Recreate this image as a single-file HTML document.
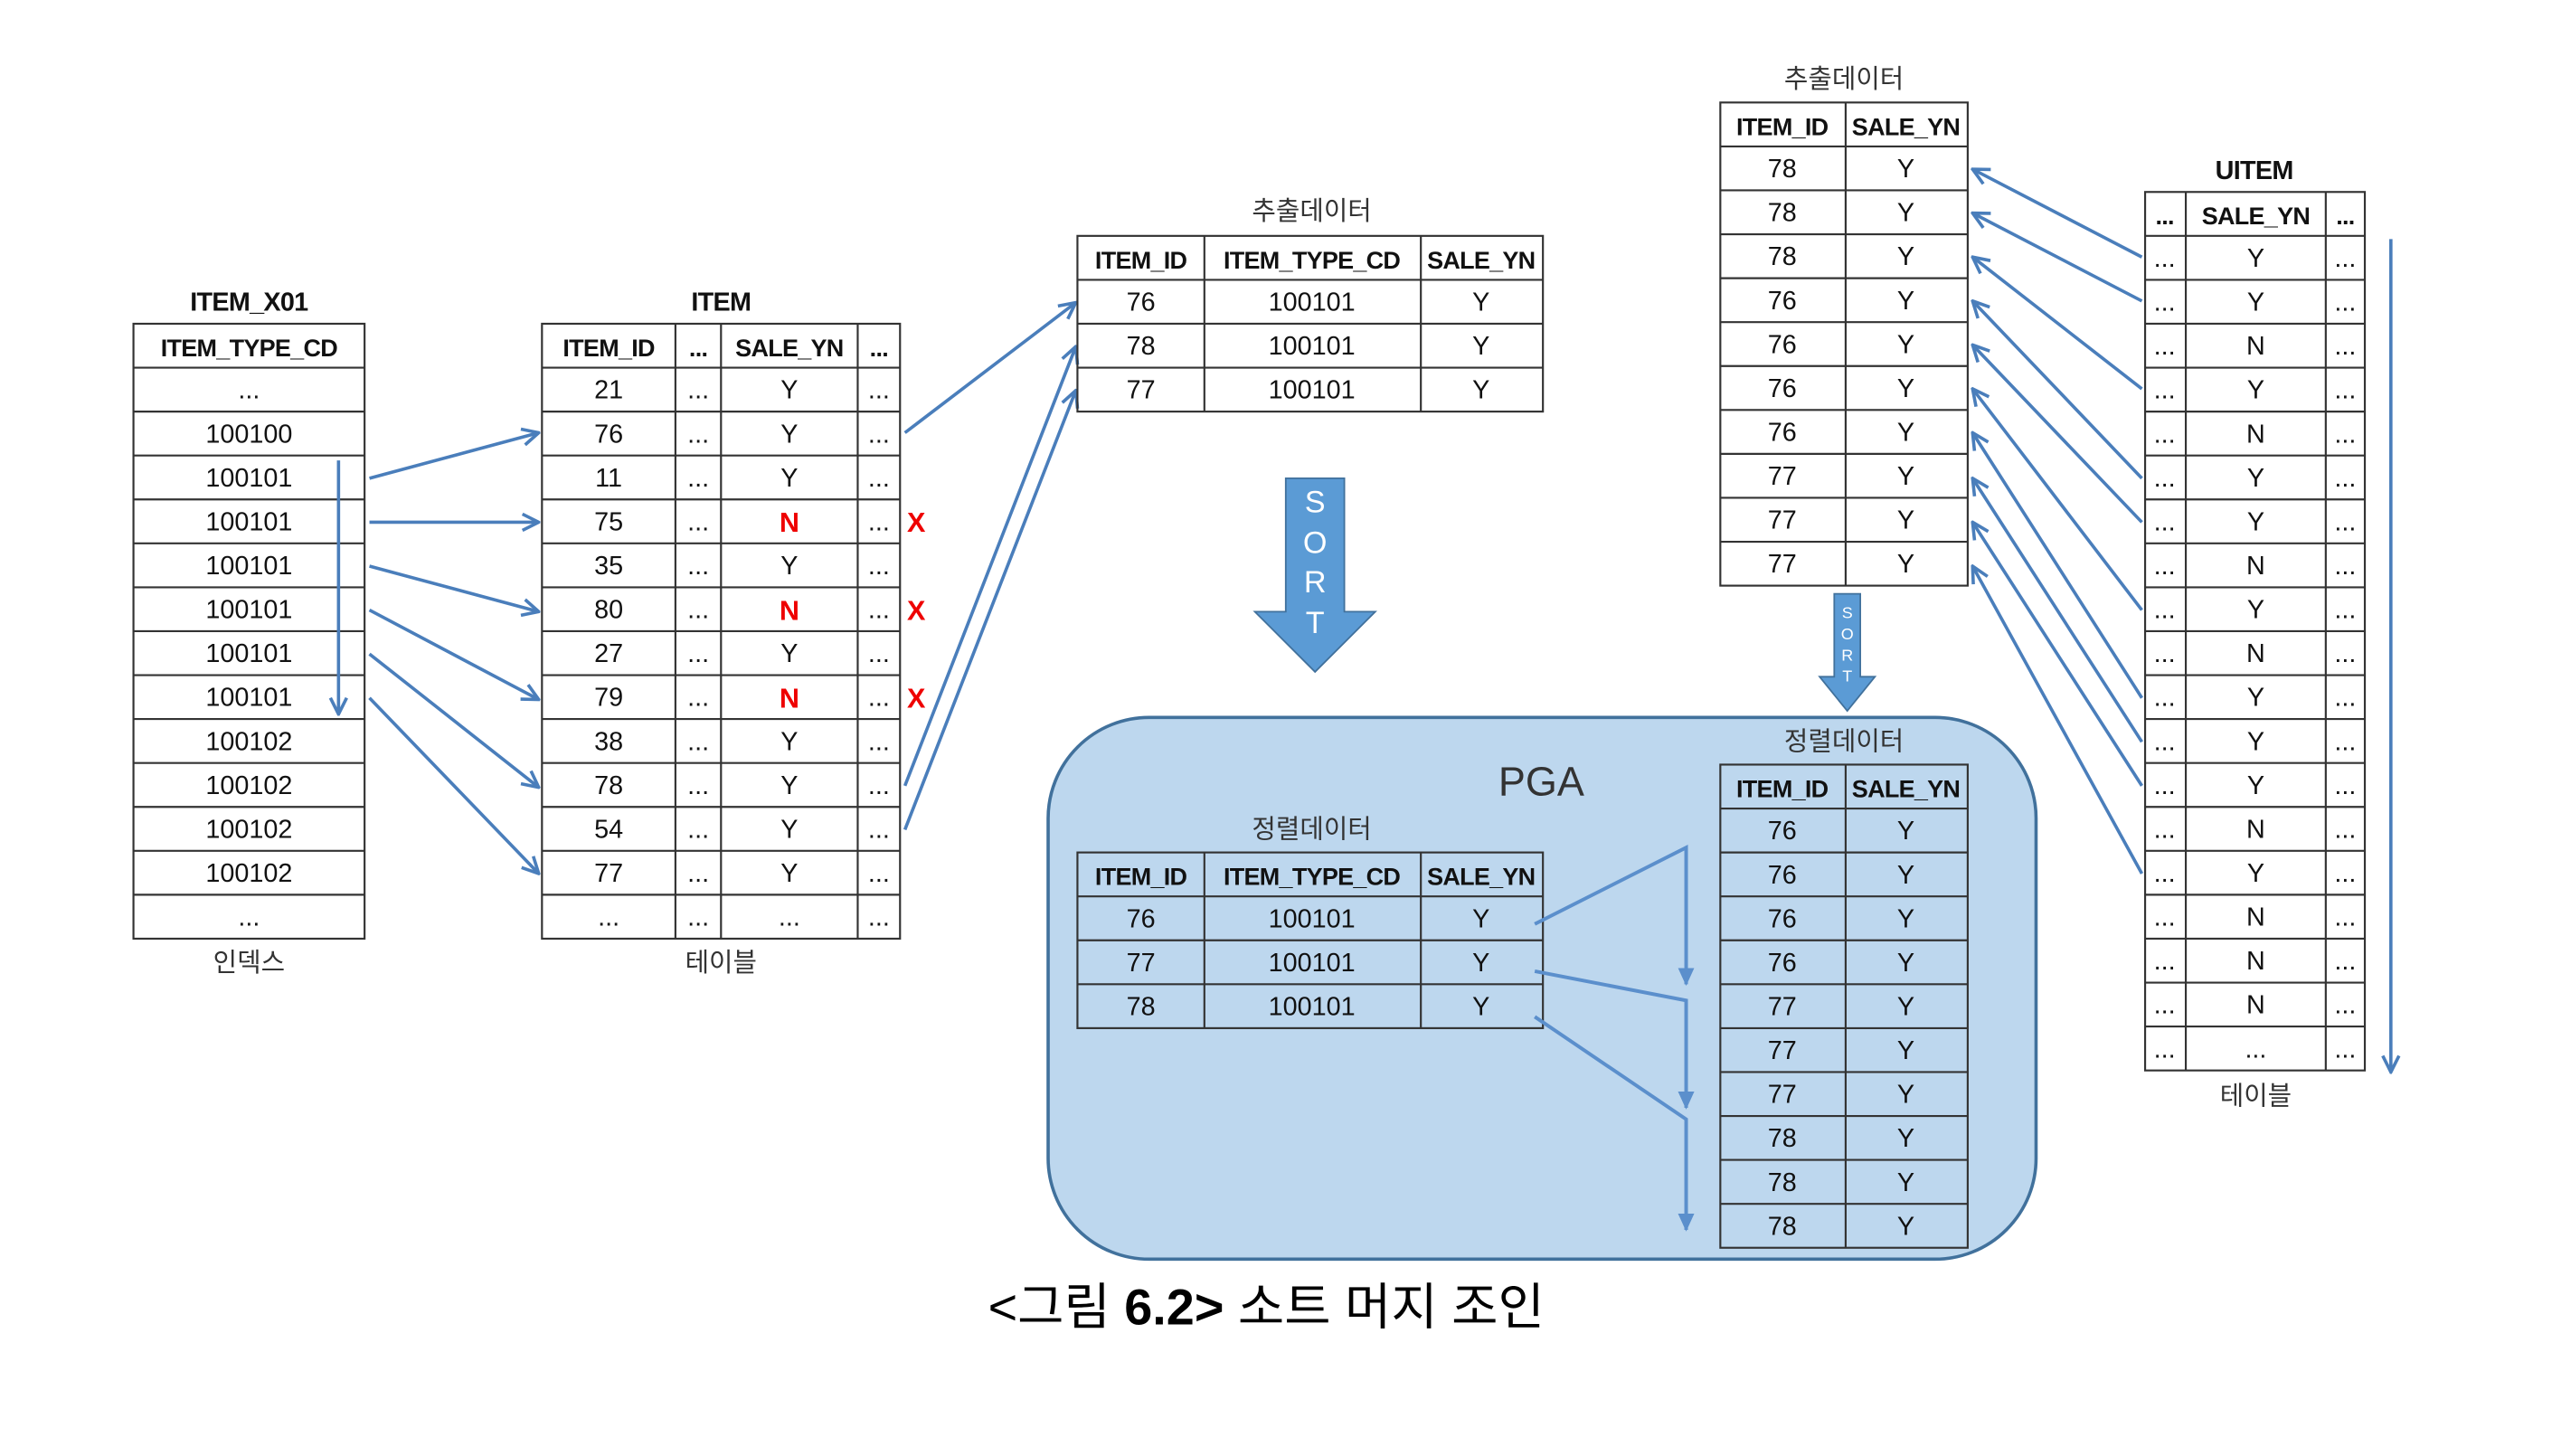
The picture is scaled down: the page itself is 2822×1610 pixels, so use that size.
<!DOCTYPE html>
<html><head><meta charset="utf-8"><style>
html,body{margin:0;padding:0;background:#fff;}
svg{display:block;}
text{font-family:"Liberation Sans","Noto Sans CJK KR",sans-serif;text-anchor:middle;fill:#111;}
.h{font-weight:bold;font-size:15px;letter-spacing:-0.4px;}
.c{font-size:16px;}
.k{font-size:16px;fill:#333;}
.g{fill:none;stroke:#333;stroke-width:1.2;}
.a{fill:none;stroke:#4a7ebb;stroke-width:2;}
.r{fill:#e00;font-size:17px;font-weight:bold;}
</style></head><body>
<svg width="2822" height="1610" viewBox="0 0 1568 895" preserveAspectRatio="none" xmlns="http://www.w3.org/2000/svg">
<defs>
<marker id="v" viewBox="0 0 12 12" refX="11" refY="6" markerWidth="12" markerHeight="12" markerUnits="userSpaceOnUse" orient="auto"><path d="M1,1 L11,6 L1,11" fill="none" stroke="#4a7ebb" stroke-width="2"/></marker>
<marker id="t" viewBox="0 0 12 12" refX="10" refY="6" markerWidth="12" markerHeight="12" markerUnits="userSpaceOnUse" orient="auto"><path d="M0,1 L11,6 L0,11 Z" fill="#5b8fcc"/></marker>
</defs>

<!-- ITEM_X01 -->
<text class="h" x="153" y="191" style="font-size:16px">ITEM_X01</text>
<rect class="g" x="82" y="199" width="142" height="378"/>
<path class="g" d="M82 226H224M82 253H224M82 280H224M82 307H224M82 334H224M82 361H224M82 388H224M82 415H224M82 442H224M82 469H224M82 496H224M82 523H224M82 550H224"/>
<text class="h" x="153" y="219">ITEM_TYPE_CD</text>
<text class="c" x="153" y="245">...</text><text class="c" x="153" y="272">100100</text>
<text class="c" x="153" y="299">100101</text><text class="c" x="153" y="326">100101</text>
<text class="c" x="153" y="353">100101</text><text class="c" x="153" y="380">100101</text>
<text class="c" x="153" y="407">100101</text><text class="c" x="153" y="434">100101</text>
<text class="c" x="153" y="461">100102</text><text class="c" x="153" y="488">100102</text>
<text class="c" x="153" y="515">100102</text><text class="c" x="153" y="542">100102</text>
<text class="c" x="153" y="569">...</text>
<text class="k" x="153" y="597">인덱스</text>
<line class="a" x1="208" y1="283" x2="208" y2="439" marker-end="url(#v)"/>

<!-- ITEM -->
<text class="h" x="443" y="191" style="font-size:16px">ITEM</text>
<rect class="g" x="333" y="199" width="220" height="378"/>
<path class="g" d="M333 226H553M333 253H553M333 280H553M333 307H553M333 334H553M333 361H553M333 388H553M333 415H553M333 442H553M333 469H553M333 496H553M333 523H553M333 550H553M415 199V577M443 199V577M527 199V577"/>
<text class="h" x="374" y="219">ITEM_ID</text><text class="h" x="429" y="219">...</text><text class="h" x="485" y="219">SALE_YN</text><text class="h" x="540" y="219">...</text>
<text class="c" x="374" y="245">21</text><text class="c" x="374" y="272">76</text><text class="c" x="374" y="299">11</text><text class="c" x="374" y="326">75</text><text class="c" x="374" y="353">35</text><text class="c" x="374" y="380">80</text><text class="c" x="374" y="407">27</text><text class="c" x="374" y="434">79</text><text class="c" x="374" y="461">38</text><text class="c" x="374" y="488">78</text><text class="c" x="374" y="515">54</text><text class="c" x="374" y="542">77</text><text class="c" x="374" y="569">...</text>
<text class="c" x="429" y="245">...</text><text class="c" x="429" y="272">...</text><text class="c" x="429" y="299">...</text><text class="c" x="429" y="326">...</text><text class="c" x="429" y="353">...</text><text class="c" x="429" y="380">...</text><text class="c" x="429" y="407">...</text><text class="c" x="429" y="434">...</text><text class="c" x="429" y="461">...</text><text class="c" x="429" y="488">...</text><text class="c" x="429" y="515">...</text><text class="c" x="429" y="542">...</text><text class="c" x="429" y="569">...</text>
<text class="c" x="485" y="245">Y</text><text class="c" x="485" y="272">Y</text><text class="c" x="485" y="299">Y</text><text class="r" x="485" y="327">N</text><text class="c" x="485" y="353">Y</text><text class="r" x="485" y="381">N</text><text class="c" x="485" y="407">Y</text><text class="r" x="485" y="435">N</text><text class="c" x="485" y="461">Y</text><text class="c" x="485" y="488">Y</text><text class="c" x="485" y="515">Y</text><text class="c" x="485" y="542">Y</text><text class="c" x="485" y="569">...</text>
<text class="c" x="540" y="245">...</text><text class="c" x="540" y="272">...</text><text class="c" x="540" y="299">...</text><text class="c" x="540" y="326">...</text><text class="c" x="540" y="353">...</text><text class="c" x="540" y="380">...</text><text class="c" x="540" y="407">...</text><text class="c" x="540" y="434">...</text><text class="c" x="540" y="461">...</text><text class="c" x="540" y="488">...</text><text class="c" x="540" y="515">...</text><text class="c" x="540" y="542">...</text><text class="c" x="540" y="569">...</text>
<text class="r" x="563" y="327">X</text><text class="r" x="563" y="381">X</text><text class="r" x="563" y="435">X</text>
<text class="k" x="443" y="597">테이블</text>

<line class="a" x1="227" y1="294" x2="331" y2="266" marker-end="url(#v)"/>
<line class="a" x1="227" y1="321" x2="331" y2="321" marker-end="url(#v)"/>
<line class="a" x1="227" y1="348" x2="331" y2="376" marker-end="url(#v)"/>
<line class="a" x1="227" y1="375" x2="331" y2="430" marker-end="url(#v)"/>
<line class="a" x1="227" y1="402" x2="331" y2="484" marker-end="url(#v)"/>
<line class="a" x1="227" y1="429" x2="331" y2="537" marker-end="url(#v)"/>

<line class="a" x1="556" y1="266" x2="661" y2="186" marker-end="url(#v)"/>
<line class="a" x1="556" y1="483" x2="661" y2="213" marker-end="url(#v)"/>
<line class="a" x1="556" y1="510" x2="661" y2="240" marker-end="url(#v)"/>

<text class="k" x="806" y="135">추출데이터</text>
<rect class="g" x="662" y="145" width="286" height="108"/>
<path class="g" d="M662 172H948M662 199H948M662 226H948M740 145V253M873 145V253"/>
<text class="h" x="701" y="165">ITEM_ID</text><text class="h" x="806" y="165">ITEM_TYPE_CD</text><text class="h" x="910" y="165">SALE_YN</text>
<text class="c" x="701" y="191">76</text><text class="c" x="806" y="191">100101</text><text class="c" x="910" y="191">Y</text>
<text class="c" x="701" y="218">78</text><text class="c" x="806" y="218">100101</text><text class="c" x="910" y="218">Y</text>
<text class="c" x="701" y="245">77</text><text class="c" x="806" y="245">100101</text><text class="c" x="910" y="245">Y</text>

<path d="M790 294H826V376H845L808 413L771 376H790Z" fill="#5b9bd5" stroke="#41719c" stroke-width="1"/>
<text x="808" y="315" style="fill:#fff;font-size:19px">S</text><text x="808" y="340" style="fill:#fff;font-size:19px">O</text><text x="808" y="364" style="fill:#fff;font-size:19px">R</text><text x="808" y="389" style="fill:#fff;font-size:19px">T</text>

<rect x="644" y="441" width="607" height="333" rx="62" ry="62" fill="#bdd7ee" stroke="#41719c" stroke-width="2"/>
<text x="947" y="489" style="font-size:25px;fill:#333">PGA</text>
<text class="k" x="806" y="515">정렬데이터</text>
<rect class="g" x="662" y="524" width="286" height="108"/>
<path class="g" d="M662 551H948M662 578H948M662 605H948M740 524V632M873 524V632"/>
<text class="h" x="701" y="544">ITEM_ID</text><text class="h" x="806" y="544">ITEM_TYPE_CD</text><text class="h" x="910" y="544">SALE_YN</text>
<text class="c" x="701" y="570">76</text><text class="c" x="806" y="570">100101</text><text class="c" x="910" y="570">Y</text>
<text class="c" x="701" y="597">77</text><text class="c" x="806" y="597">100101</text><text class="c" x="910" y="597">Y</text>
<text class="c" x="701" y="624">78</text><text class="c" x="806" y="624">100101</text><text class="c" x="910" y="624">Y</text>

<path d="M943 568L1036 521V605" fill="none" stroke="#5b8fcc" stroke-width="2.2" marker-end="url(#t)"/>
<path d="M943 597L1036 615V681" fill="none" stroke="#5b8fcc" stroke-width="2.2" marker-end="url(#t)"/>
<path d="M943 625L1036 688V756" fill="none" stroke="#5b8fcc" stroke-width="2.2" marker-end="url(#t)"/>

<text class="k" x="1133" y="461">정렬데이터</text>
<rect class="g" x="1057" y="470" width="152" height="297"/>
<path class="g" d="M1057 497H1209M1057 524H1209M1057 551H1209M1057 578H1209M1057 605H1209M1057 632H1209M1057 659H1209M1057 686H1209M1057 713H1209M1057 740H1209M1134 470V767"/>
<text class="h" x="1095" y="490">ITEM_ID</text><text class="h" x="1171" y="490">SALE_YN</text>
<text class="c" x="1095" y="516">76</text><text class="c" x="1095" y="543">76</text><text class="c" x="1095" y="570">76</text><text class="c" x="1095" y="597">76</text><text class="c" x="1095" y="624">77</text><text class="c" x="1095" y="651">77</text><text class="c" x="1095" y="678">77</text><text class="c" x="1095" y="705">78</text><text class="c" x="1095" y="732">78</text><text class="c" x="1095" y="759">78</text>
<text class="c" x="1171" y="516">Y</text><text class="c" x="1171" y="543">Y</text><text class="c" x="1171" y="570">Y</text><text class="c" x="1171" y="597">Y</text><text class="c" x="1171" y="624">Y</text><text class="c" x="1171" y="651">Y</text><text class="c" x="1171" y="678">Y</text><text class="c" x="1171" y="705">Y</text><text class="c" x="1171" y="732">Y</text><text class="c" x="1171" y="759">Y</text>

<text class="k" x="1133" y="54">추출데이터</text>
<rect class="g" x="1057" y="63" width="152" height="297"/>
<path class="g" d="M1057 90H1209M1057 117H1209M1057 144H1209M1057 171H1209M1057 198H1209M1057 225H1209M1057 252H1209M1057 279H1209M1057 306H1209M1057 333H1209M1134 63V360"/>
<text class="h" x="1095" y="83">ITEM_ID</text><text class="h" x="1171" y="83">SALE_YN</text>
<text class="c" x="1095" y="109">78</text><text class="c" x="1095" y="136">78</text><text class="c" x="1095" y="163">78</text><text class="c" x="1095" y="190">76</text><text class="c" x="1095" y="217">76</text><text class="c" x="1095" y="244">76</text><text class="c" x="1095" y="271">76</text><text class="c" x="1095" y="298">77</text><text class="c" x="1095" y="325">77</text><text class="c" x="1095" y="352">77</text>
<text class="c" x="1171" y="109">Y</text><text class="c" x="1171" y="136">Y</text><text class="c" x="1171" y="163">Y</text><text class="c" x="1171" y="190">Y</text><text class="c" x="1171" y="217">Y</text><text class="c" x="1171" y="244">Y</text><text class="c" x="1171" y="271">Y</text><text class="c" x="1171" y="298">Y</text><text class="c" x="1171" y="325">Y</text><text class="c" x="1171" y="352">Y</text>

<path d="M1127 365H1143V416H1152L1135 437L1118 416H1127Z" fill="#5b9bd5" stroke="#41719c" stroke-width="1"/>
<text x="1135" y="380" style="fill:#fff;font-size:10px">S</text><text x="1135" y="393" style="fill:#fff;font-size:10px">O</text><text x="1135" y="406" style="fill:#fff;font-size:10px">R</text><text x="1135" y="419" style="fill:#fff;font-size:10px">T</text>

<text class="h" x="1385" y="110" style="font-size:16px">UITEM</text>
<rect class="g" x="1318" y="118" width="135" height="540"/>
<path class="g" d="M1318 145H1453M1318 172H1453M1318 199H1453M1318 226H1453M1318 253H1453M1318 280H1453M1318 307H1453M1318 334H1453M1318 361H1453M1318 388H1453M1318 415H1453M1318 442H1453M1318 469H1453M1318 496H1453M1318 523H1453M1318 550H1453M1318 577H1453M1318 604H1453M1318 631H1453M1343 118V658M1429 118V658"/>
<text class="h" x="1330" y="138">...</text><text class="h" x="1386" y="138">SALE_YN</text><text class="h" x="1441" y="138">...</text>
<text class="c" x="1386" y="164">Y</text><text class="c" x="1386" y="191">Y</text><text class="c" x="1386" y="218">N</text><text class="c" x="1386" y="245">Y</text><text class="c" x="1386" y="272">N</text><text class="c" x="1386" y="299">Y</text><text class="c" x="1386" y="326">Y</text><text class="c" x="1386" y="353">N</text><text class="c" x="1386" y="380">Y</text><text class="c" x="1386" y="407">N</text><text class="c" x="1386" y="434">Y</text><text class="c" x="1386" y="461">Y</text><text class="c" x="1386" y="488">Y</text><text class="c" x="1386" y="515">N</text><text class="c" x="1386" y="542">Y</text><text class="c" x="1386" y="569">N</text><text class="c" x="1386" y="596">N</text><text class="c" x="1386" y="623">N</text><text class="c" x="1386" y="650">...</text>
<text class="c" x="1330" y="164">...</text><text class="c" x="1330" y="191">...</text><text class="c" x="1330" y="218">...</text><text class="c" x="1330" y="245">...</text><text class="c" x="1330" y="272">...</text><text class="c" x="1330" y="299">...</text><text class="c" x="1330" y="326">...</text><text class="c" x="1330" y="353">...</text><text class="c" x="1330" y="380">...</text><text class="c" x="1330" y="407">...</text><text class="c" x="1330" y="434">...</text><text class="c" x="1330" y="461">...</text><text class="c" x="1330" y="488">...</text><text class="c" x="1330" y="515">...</text><text class="c" x="1330" y="542">...</text><text class="c" x="1330" y="569">...</text><text class="c" x="1330" y="596">...</text><text class="c" x="1330" y="623">...</text><text class="c" x="1330" y="650">...</text>
<text class="c" x="1441" y="164">...</text><text class="c" x="1441" y="191">...</text><text class="c" x="1441" y="218">...</text><text class="c" x="1441" y="245">...</text><text class="c" x="1441" y="272">...</text><text class="c" x="1441" y="299">...</text><text class="c" x="1441" y="326">...</text><text class="c" x="1441" y="353">...</text><text class="c" x="1441" y="380">...</text><text class="c" x="1441" y="407">...</text><text class="c" x="1441" y="434">...</text><text class="c" x="1441" y="461">...</text><text class="c" x="1441" y="488">...</text><text class="c" x="1441" y="515">...</text><text class="c" x="1441" y="542">...</text><text class="c" x="1441" y="569">...</text><text class="c" x="1441" y="596">...</text><text class="c" x="1441" y="623">...</text><text class="c" x="1441" y="650">...</text>
<text class="k" x="1386" y="679">테이블</text>
<line class="a" x1="1469" y1="147" x2="1469" y2="659" marker-end="url(#v)"/>

<line class="a" x1="1316" y1="158" x2="1212" y2="104" marker-end="url(#v)"/>
<line class="a" x1="1316" y1="185" x2="1212" y2="131" marker-end="url(#v)"/>
<line class="a" x1="1316" y1="239" x2="1212" y2="158" marker-end="url(#v)"/>
<line class="a" x1="1316" y1="294" x2="1212" y2="185" marker-end="url(#v)"/>
<line class="a" x1="1316" y1="321" x2="1212" y2="212" marker-end="url(#v)"/>
<line class="a" x1="1316" y1="375" x2="1212" y2="239" marker-end="url(#v)"/>
<line class="a" x1="1316" y1="429" x2="1212" y2="266" marker-end="url(#v)"/>
<line class="a" x1="1316" y1="456" x2="1212" y2="294" marker-end="url(#v)"/>
<line class="a" x1="1316" y1="483" x2="1212" y2="321" marker-end="url(#v)"/>
<line class="a" x1="1316" y1="537" x2="1212" y2="348" marker-end="url(#v)"/>

<text x="778" y="814" style="font-size:31px;fill:#000">&lt;그림 <tspan style="font-weight:bold">6.2&gt;</tspan> 소트 머지 조인</text>
</svg>
</body></html>
